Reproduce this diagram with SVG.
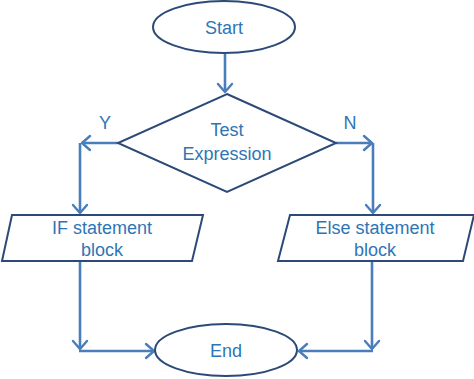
<svg xmlns="http://www.w3.org/2000/svg" width="474" height="379" viewBox="0 0 474 379">
<defs>
<marker id="arr" markerUnits="userSpaceOnUse" markerWidth="20" markerHeight="20" refX="10" refY="10" orient="auto" viewBox="0 0 20 20">
<path d="M2,3 L10,10 L2,17" fill="none" stroke="#4a7ebb" stroke-width="2.4" stroke-linecap="round" stroke-linejoin="round"/>
</marker>
</defs>
<style>
.shape{fill:#ffffff;stroke:#2c4a78;stroke-width:2}
.conn{fill:none;stroke:#4a7ebb;stroke-width:2.6;marker-end:url(#arr)}
.t{font-family:"Liberation Sans",Arial,sans-serif;font-size:18px;fill:#2e75b6;text-anchor:middle}
</style>
<rect width="474" height="379" fill="#ffffff"/>
<g id="connectors">
<path class="conn" d="M225,54 V92"/>
<path class="conn" d="M118,143 H82"/>
<path class="conn" d="M80,143 V213"/>
<path class="conn" d="M336,143 H372"/>
<path class="conn" d="M373,143 V213"/>
<path class="conn" d="M80,262 V349"/>
<path class="conn" d="M79,351 H154"/>
<path class="conn" d="M372,262 V349"/>
<path class="conn" d="M373,351 H299"/>
</g>
<g id="start">
<ellipse class="shape" cx="224" cy="27" rx="71" ry="26"/>
<text class="t" x="224" y="34">Start</text>
</g>
<g id="test">
<polygon class="shape" points="227,94 336,143 227,192 118,143"/>
<text class="t" x="227" y="136">Test</text>
<text class="t" x="227" y="160">Expression</text>
</g>
<g id="labels">
<text class="t" x="105" y="129">Y</text>
<text class="t" x="350" y="129">N</text>
</g>
<g id="ifblock">
<polygon class="shape" points="12,215 203,215 192,261 2,261"/>
<text class="t" x="102" y="234">IF statement</text>
<text class="t" x="102" y="256">block</text>
</g>
<g id="elseblock">
<polygon class="shape" points="290,215 474,215 463,261 278,261"/>
<text class="t" x="375" y="234">Else statement</text>
<text class="t" x="375" y="256">block</text>
</g>
<g id="end">
<ellipse class="shape" cx="226" cy="350" rx="71" ry="26"/>
<text class="t" x="226" y="357">End</text>
</g>
</svg>
